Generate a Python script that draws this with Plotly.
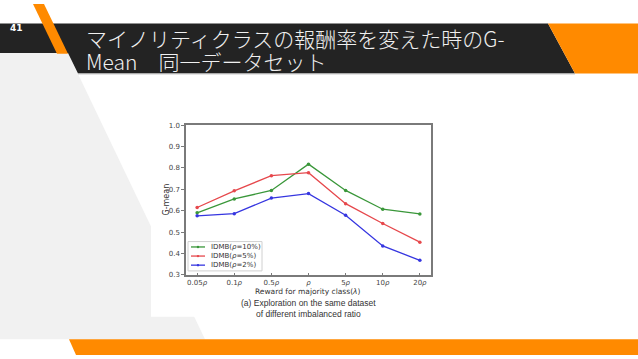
import plotly.graph_objects as go

W, H = 638, 359

categories = ["0.05<i>ρ</i>", "0.1<i>ρ</i>", "0.5<i>ρ</i>", "<i>ρ</i>", "5<i>ρ</i>", "10<i>ρ</i>", "20<i>ρ</i>"]
g10 = [0.590, 0.655, 0.695, 0.818, 0.695, 0.607, 0.585]
g5 = [0.615, 0.693, 0.764, 0.778, 0.633, 0.540, 0.453]
g2 = [0.576, 0.586, 0.659, 0.680, 0.579, 0.435, 0.368]
series_names = ["IDMB(<i>ρ</i>=10%)", "IDMB(<i>ρ</i>=5%)", "IDMB(<i>ρ</i>=2%)"]
y_ticks = [0.3, 0.4, 0.5, 0.6, 0.7, 0.8, 0.9, 1.0]

title1 = "マイノリティクラスの報酬率を変えた時のG-"
title2 = "Mean　同一データセット"
slide_no = "41"
x_title = "Reward for majority class(<i>λ</i>)"
caption = "(a) Exploration on the same dataset<br>of different imbalanced ratio"
y_title = "G-mean"

colors = ["#3a973a", "#e6484c", "#3636e0"]

def px(x):
    return x / W

def py(y):
    return 1 - y / H

def path(pts):
    return "M " + " L ".join(f"{px(x):.5f},{py(y):.5f}" for x, y in pts) + " Z"

fig = go.Figure()
xs = list(range(len(categories)))
for vals, name, c in zip([g10, g5, g2], series_names, colors):
    fig.add_trace(go.Scatter(
        x=xs, y=vals, name=name, mode="lines+markers",
        line=dict(color=c, width=1.3),
        marker=dict(color=c, size=3.5),
        showlegend=False,
    ))

shapes = []
shapes.append(dict(type="path", xref="paper", yref="paper", layer="below",
                   path=path([(0, 50), (68, 50), (205, 343), (0, 343)]),
                   fillcolor="#f1f1f1", line=dict(width=0)))
shapes.append(dict(type="rect", xref="paper", yref="paper", layer="below",
                   x0=px(151), x1=px(470), y0=py(320), y1=py(100),
                   fillcolor="white", line=dict(width=0)))
shapes.append(dict(type="path", xref="paper", yref="paper", layer="below",
                   path=path([(0, 20), (548, 20), (575, 71), (78, 71), (68, 50), (0, 50)]),
                   fillcolor="#232323", line=dict(width=0)))
shapes.append(dict(type="line", xref="paper", yref="paper", layer="below",
                   x0=px(78), x1=px(575), y0=py(71.5), y1=py(71.5),
                   line=dict(color="#bdbdbd", width=1)))
shapes.append(dict(type="path", xref="paper", yref="paper", layer="below",
                   path=path([(33, 0), (44, 0), (68, 51), (57, 51)]),
                   fillcolor="#ff8a00", line=dict(width=0)))
shapes.append(dict(type="path", xref="paper", yref="paper", layer="below",
                   path=path([(548, 20), (638, 20), (638, 71), (575, 71)]),
                   fillcolor="#ff8a00", line=dict(width=0)))
shapes.append(dict(type="path", xref="paper", yref="paper", layer="below",
                   path=path([(69, 343), (638, 343), (638, 359), (76, 359)]),
                   fillcolor="#ff8a00", line=dict(width=0)))

annotations = [
    dict(text=slide_no, x=px(16), y=py(25), xref="paper", yref="paper", showarrow=False,
         xanchor="center", yanchor="middle", font=dict(family="DejaVu Sans", size=9, color="white", weight="bold")),
    dict(text=title1, x=px(84), y=py(35), xref="paper", yref="paper", showarrow=False,
         xanchor="left", yanchor="middle",
         font=dict(family="Noto Sans CJK JP", size=21, color="#f0f0f0", weight=300)),
    dict(text=title2, x=px(84), y=py(58), xref="paper", yref="paper", showarrow=False,
         xanchor="left", yanchor="middle",
         font=dict(family="Noto Sans CJK JP", size=21, color="#f0f0f0", weight=300)),
    dict(text=x_title, x=px(308), y=py(294), xref="paper", yref="paper", showarrow=False,
         xanchor="center", yanchor="middle", font=dict(family="DejaVu Sans", size=7.5, color="#333")),
    dict(text=caption, x=px(308), y=py(311), xref="paper", yref="paper", showarrow=False,
         xanchor="center", yanchor="middle", align="center",
         font=dict(family="Liberation Sans", size=8.5, color="#333")),
    dict(text=y_title, x=px(167), y=py(200), xref="paper", yref="paper", showarrow=False,
         textangle=-90, xanchor="center", yanchor="middle",
         font=dict(family="DejaVu Sans", size=8, color="#333")),
]

leg_x0, leg_x1, leg_y0, leg_y1 = 188, 262, 243, 273
shapes.append(dict(type="rect", xref="paper", yref="paper",
                   x0=px(leg_x0), x1=px(leg_x1), y0=py(leg_y1), y1=py(leg_y0),
                   fillcolor="white", line=dict(color="#d0d0d0", width=1)))
for i, (name, c) in enumerate(zip(series_names, colors)):
    yy = 248.5 + i * 9.3
    shapes.append(dict(type="line", xref="paper", yref="paper",
                       x0=px(191), x1=px(205), y0=py(yy), y1=py(yy),
                       line=dict(color=c, width=1.3)))
    shapes.append(dict(type="circle", xref="paper", yref="paper",
                       x0=px(196.8), x1=px(199.2), y0=py(yy + 1.2), y1=py(yy - 1.2),
                       fillcolor=c, line=dict(width=0)))
    annotations.append(dict(text=name, x=px(209), y=py(yy), xref="paper", yref="paper",
                            showarrow=False, xanchor="left", yanchor="middle",
                            font=dict(family="DejaVu Sans", size=7, color="#333")))

fig.update_layout(
    width=W, height=H, autosize=False,
    margin=dict(l=0, r=0, t=0, b=0),
    paper_bgcolor="white", plot_bgcolor="white",
    shapes=shapes, annotations=annotations,
    showlegend=False,
    xaxis=dict(domain=[px(186), px(431)], range=[-0.3, 6.3],
               tickmode="array", tickvals=xs, ticktext=categories,
               showgrid=False, zeroline=False, showline=True, mirror=True,
               linecolor="#7a7a7a", linewidth=1.5, ticks="inside", ticklen=2,
               tickcolor="#7a7a7a", tickfont=dict(family="DejaVu Sans", size=7, color="#444")),
    yaxis=dict(domain=[py(277), py(124)], range=[0.3, 1.0],
               tickmode="array", tickvals=y_ticks, ticktext=[f"{v:.1f}" for v in y_ticks],
               showgrid=False, zeroline=False, showline=True, mirror=True,
               linecolor="#7a7a7a", linewidth=1.5, ticks="outside", ticklen=3,
               tickcolor="#7a7a7a", tickfont=dict(family="DejaVu Sans", size=7, color="#444")),
)

fig.write_html("out.html",
               config={"displayModeBar": False, "responsive": False},
               post_script="document.body.style.margin='0';document.body.style.overflow='hidden';")
